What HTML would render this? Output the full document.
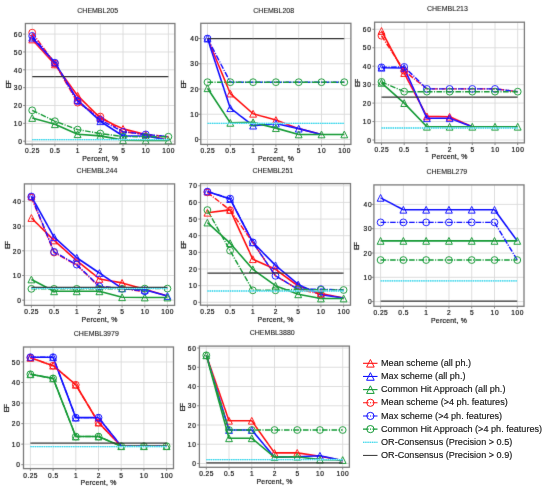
<!DOCTYPE html>
<html><head><meta charset="utf-8"><title>EF charts</title><style>html,body{margin:0;padding:0;background:#fff;}body{width:550px;height:492px;overflow:hidden;font-family:"Liberation Sans",sans-serif;}svg{display:block;will-change:transform;}text{font-family:"Liberation Sans",sans-serif;}</style></head><body>
<svg width="550" height="492" viewBox="0 0 550 492"><defs><filter id="bl" x="0" y="0" width="550" height="492" filterUnits="userSpaceOnUse"><feConvolveMatrix order="3" kernelMatrix="0.0072 0.0847 0.0072 0.0847 1.0000 0.0847 0.0072 0.0847 0.0072" edgeMode="duplicate"/></filter><filter id="tb" x="0" y="0" width="550" height="492" filterUnits="userSpaceOnUse"><feConvolveMatrix order="3" kernelMatrix="0.0072 0.0847 0.0072 0.0847 1.0000 0.0847 0.0072 0.0847 0.0072" edgeMode="duplicate"/></filter></defs><rect width="550" height="492" fill="#fff"/><g filter="url(#bl)">
<path d="M32.2 23.5V144.2M54.9 23.5V144.2M77.6 23.5V144.2M100.3 23.5V144.2M123 23.5V144.2M145.7 23.5V144.2M168.4 23.5V144.2M25.4 141.2H174.9M25.4 123.35H174.9M25.4 105.5H174.9M25.4 87.65H174.9M25.4 69.8H174.9M25.4 51.95H174.9M25.4 34.1H174.9" stroke="#dadada" stroke-width="0.9" fill="none"/>
<path d="M32.2 39.45L54.9 64.44L77.6 95.68L100.3 117.99L123 128.88L145.7 134.6L168.4 140.31" fill="none" stroke="#ff1010" stroke-width="1.6" stroke-linejoin="round"/>
<path d="M32.2 36.05L28.8 42.85L35.6 42.85Z" fill="none" stroke="#ff1010" stroke-width="1.0" stroke-linejoin="miter"/>
<path d="M54.9 61.04L51.5 67.84L58.3 67.84Z" fill="none" stroke="#ff1010" stroke-width="1.0" stroke-linejoin="miter"/>
<path d="M77.6 92.28L74.2 99.08L81 99.08Z" fill="none" stroke="#ff1010" stroke-width="1.0" stroke-linejoin="miter"/>
<path d="M100.3 114.59L96.9 121.39L103.7 121.39Z" fill="none" stroke="#ff1010" stroke-width="1.0" stroke-linejoin="miter"/>
<path d="M123 125.48L119.6 132.28L126.4 132.28Z" fill="none" stroke="#ff1010" stroke-width="1.0" stroke-linejoin="miter"/>
<path d="M145.7 131.2L142.3 138L149.1 138Z" fill="none" stroke="#ff1010" stroke-width="1.0" stroke-linejoin="miter"/>
<path d="M32.2 37.67L54.9 62.66L77.6 100.14L100.3 121.21L123 136.02L145.7 136.02L168.4 140.31" fill="none" stroke="#1010ff" stroke-width="1.6" stroke-linejoin="round"/>
<path d="M32.2 34.27L28.8 41.07L35.6 41.07Z" fill="none" stroke="#1010ff" stroke-width="1.0" stroke-linejoin="miter"/>
<path d="M54.9 59.26L51.5 66.06L58.3 66.06Z" fill="none" stroke="#1010ff" stroke-width="1.0" stroke-linejoin="miter"/>
<path d="M77.6 96.74L74.2 103.54L81 103.54Z" fill="none" stroke="#1010ff" stroke-width="1.0" stroke-linejoin="miter"/>
<path d="M100.3 117.81L96.9 124.61L103.7 124.61Z" fill="none" stroke="#1010ff" stroke-width="1.0" stroke-linejoin="miter"/>
<path d="M123 132.62L119.6 139.42L126.4 139.42Z" fill="none" stroke="#1010ff" stroke-width="1.0" stroke-linejoin="miter"/>
<path d="M145.7 132.62L142.3 139.42L149.1 139.42Z" fill="none" stroke="#1010ff" stroke-width="1.0" stroke-linejoin="miter"/>
<path d="M32.2 117.99L54.9 124.24L77.6 134.24L100.3 135.84L123 140.13L145.7 140.49L168.4 140.49" fill="none" stroke="#139a35" stroke-width="1.6" stroke-linejoin="round"/>
<path d="M32.2 114.59L28.8 121.39L35.6 121.39Z" fill="none" stroke="#139a35" stroke-width="1.0" stroke-linejoin="miter"/>
<path d="M54.9 120.84L51.5 127.64L58.3 127.64Z" fill="none" stroke="#139a35" stroke-width="1.0" stroke-linejoin="miter"/>
<path d="M77.6 130.84L74.2 137.64L81 137.64Z" fill="none" stroke="#139a35" stroke-width="1.0" stroke-linejoin="miter"/>
<path d="M100.3 132.44L96.9 139.25L103.7 139.25Z" fill="none" stroke="#139a35" stroke-width="1.0" stroke-linejoin="miter"/>
<path d="M123 136.73L119.6 143.53L126.4 143.53Z" fill="none" stroke="#139a35" stroke-width="1.0" stroke-linejoin="miter"/>
<path d="M145.7 137.09L142.3 143.89L149.1 143.89Z" fill="none" stroke="#139a35" stroke-width="1.0" stroke-linejoin="miter"/>
<path d="M168.4 137.09L165 143.89L171.8 143.89Z" fill="none" stroke="#139a35" stroke-width="1.0" stroke-linejoin="miter"/>
<path d="M32.2 32.67L54.9 63.55L77.6 102.64L100.3 116.57L123 131.74L145.7 134.42L168.4 136.74" fill="none" stroke="#ff1010" stroke-width="1.45" stroke-linejoin="round" stroke-dasharray="5.6 1.4 1.1 1.4"/>
<circle cx="32.2" cy="32.67" r="3.4" fill="none" stroke="#ff1010" stroke-width="1.0"/>
<circle cx="54.9" cy="63.55" r="3.4" fill="none" stroke="#ff1010" stroke-width="1.0"/>
<circle cx="77.6" cy="102.64" r="3.4" fill="none" stroke="#ff1010" stroke-width="1.0"/>
<circle cx="100.3" cy="116.57" r="3.4" fill="none" stroke="#ff1010" stroke-width="1.0"/>
<path d="M32.2 35.88L54.9 62.66L77.6 101.22L100.3 119.78L123 131.74L145.7 134.42L168.4 136.74" fill="none" stroke="#1010ff" stroke-width="1.45" stroke-linejoin="round" stroke-dasharray="5.6 1.4 1.1 1.4"/>
<circle cx="32.2" cy="35.88" r="3.4" fill="none" stroke="#1010ff" stroke-width="1.0"/>
<circle cx="54.9" cy="62.66" r="3.4" fill="none" stroke="#1010ff" stroke-width="1.0"/>
<circle cx="77.6" cy="101.22" r="3.4" fill="none" stroke="#1010ff" stroke-width="1.0"/>
<circle cx="100.3" cy="119.78" r="3.4" fill="none" stroke="#1010ff" stroke-width="1.0"/>
<circle cx="123" cy="131.74" r="3.4" fill="none" stroke="#1010ff" stroke-width="1.0"/>
<circle cx="145.7" cy="134.42" r="3.4" fill="none" stroke="#1010ff" stroke-width="1.0"/>
<path d="M32.2 110.32L54.9 121.21L77.6 129.6L100.3 133.52L123 136.56L145.7 136.74L168.4 136.74" fill="none" stroke="#139a35" stroke-width="1.45" stroke-linejoin="round" stroke-dasharray="5.6 1.4 1.1 1.4"/>
<circle cx="32.2" cy="110.32" r="3.4" fill="none" stroke="#139a35" stroke-width="1.0"/>
<circle cx="54.9" cy="121.21" r="3.4" fill="none" stroke="#139a35" stroke-width="1.0"/>
<circle cx="77.6" cy="129.6" r="3.4" fill="none" stroke="#139a35" stroke-width="1.0"/>
<circle cx="100.3" cy="133.52" r="3.4" fill="none" stroke="#139a35" stroke-width="1.0"/>
<circle cx="123" cy="136.56" r="3.4" fill="none" stroke="#139a35" stroke-width="1.0"/>
<circle cx="145.7" cy="136.74" r="3.4" fill="none" stroke="#139a35" stroke-width="1.0"/>
<circle cx="168.4" cy="136.74" r="3.4" fill="none" stroke="#139a35" stroke-width="1.0"/>
<path d="M32.2 139.59H168.4" stroke="#a8eef6" stroke-width="1.2"/>
<path d="M32.2 139.59H168.4" stroke="#22d2ea" stroke-width="1.3" stroke-dasharray="1.2 1.05"/>
<path d="M32.2 76.58H168.4" stroke="#333333" stroke-width="1.25"/>
<rect x="25.4" y="23.5" width="149.5" height="120.7" fill="none" stroke="#7a7a7a" stroke-width="1.3"/>
<path d="M32.2 144.2v2.2M54.9 144.2v2.2M77.6 144.2v2.2M100.3 144.2v2.2M123 144.2v2.2M145.7 144.2v2.2M168.4 144.2v2.2M25.4 141.2h-2.2M25.4 123.35h-2.2M25.4 105.5h-2.2M25.4 87.65h-2.2M25.4 69.8h-2.2M25.4 51.95h-2.2M25.4 34.1h-2.2" stroke="#7a7a7a" stroke-width="0.9" fill="none"/>
<path d="M207.5 23.3V144.4M230.3 23.3V144.4M253.1 23.3V144.4M275.9 23.3V144.4M298.7 23.3V144.4M321.5 23.3V144.4M344.3 23.3V144.4M200.8 139.5H350.9M200.8 114.25H350.9M200.8 89H350.9M200.8 63.75H350.9M200.8 38.5H350.9" stroke="#dadada" stroke-width="0.9" fill="none"/>
<path d="M207.5 38.5L230.3 93.55L253.1 113.75L275.9 120.06L298.7 128.64L321.5 134.45" fill="none" stroke="#ff1010" stroke-width="1.6" stroke-linejoin="round"/>
<path d="M230.3 90.14L226.9 96.95L233.7 96.95Z" fill="none" stroke="#ff1010" stroke-width="1.0" stroke-linejoin="miter"/>
<path d="M253.1 110.34L249.7 117.15L256.5 117.15Z" fill="none" stroke="#ff1010" stroke-width="1.0" stroke-linejoin="miter"/>
<path d="M275.9 116.66L272.5 123.46L279.3 123.46Z" fill="none" stroke="#ff1010" stroke-width="1.0" stroke-linejoin="miter"/>
<path d="M207.5 38.5L230.3 108.19L253.1 125.61L275.9 123.59L298.7 128.64L321.5 134.45" fill="none" stroke="#1010ff" stroke-width="1.6" stroke-linejoin="round"/>
<path d="M207.5 35.1L204.1 41.9L210.9 41.9Z" fill="none" stroke="#1010ff" stroke-width="1.0" stroke-linejoin="miter"/>
<path d="M230.3 104.79L226.9 111.59L233.7 111.59Z" fill="none" stroke="#1010ff" stroke-width="1.0" stroke-linejoin="miter"/>
<path d="M253.1 122.21L249.7 129.01L256.5 129.01Z" fill="none" stroke="#1010ff" stroke-width="1.0" stroke-linejoin="miter"/>
<path d="M275.9 120.19L272.5 126.99L279.3 126.99Z" fill="none" stroke="#1010ff" stroke-width="1.0" stroke-linejoin="miter"/>
<path d="M298.7 125.24L295.3 132.04L302.1 132.04Z" fill="none" stroke="#1010ff" stroke-width="1.0" stroke-linejoin="miter"/>
<path d="M207.5 88.24L230.3 122.84L253.1 122.33L275.9 128.14L298.7 134.45L321.5 134.45L344.3 134.45" fill="none" stroke="#139a35" stroke-width="1.6" stroke-linejoin="round"/>
<path d="M207.5 84.84L204.1 91.64L210.9 91.64Z" fill="none" stroke="#139a35" stroke-width="1.0" stroke-linejoin="miter"/>
<path d="M230.3 119.44L226.9 126.24L233.7 126.24Z" fill="none" stroke="#139a35" stroke-width="1.0" stroke-linejoin="miter"/>
<path d="M253.1 118.93L249.7 125.73L256.5 125.73Z" fill="none" stroke="#139a35" stroke-width="1.0" stroke-linejoin="miter"/>
<path d="M275.9 124.74L272.5 131.54L279.3 131.54Z" fill="none" stroke="#139a35" stroke-width="1.0" stroke-linejoin="miter"/>
<path d="M298.7 131.05L295.3 137.85L302.1 137.85Z" fill="none" stroke="#139a35" stroke-width="1.0" stroke-linejoin="miter"/>
<path d="M321.5 131.05L318.1 137.85L324.9 137.85Z" fill="none" stroke="#139a35" stroke-width="1.0" stroke-linejoin="miter"/>
<path d="M344.3 131.05L340.9 137.85L347.7 137.85Z" fill="none" stroke="#139a35" stroke-width="1.0" stroke-linejoin="miter"/>
<path d="M207.5 38.5L230.3 82.18L253.1 82.18L275.9 82.18L298.7 82.18L321.5 82.18L344.3 82.18" fill="none" stroke="#1010ff" stroke-width="1.45" stroke-linejoin="round" stroke-dasharray="5.6 1.4 1.1 1.4"/>
<circle cx="207.5" cy="38.5" r="3.4" fill="none" stroke="#1010ff" stroke-width="1.0"/>
<path d="M207.5 82.18L230.3 82.18L253.1 82.18L275.9 82.18L298.7 82.18L321.5 82.18L344.3 82.18" fill="none" stroke="#139a35" stroke-width="1.45" stroke-linejoin="round" stroke-dasharray="5.6 1.4 1.1 1.4"/>
<circle cx="207.5" cy="82.18" r="3.4" fill="none" stroke="#139a35" stroke-width="1.0"/>
<circle cx="230.3" cy="82.18" r="3.4" fill="none" stroke="#139a35" stroke-width="1.0"/>
<circle cx="253.1" cy="82.18" r="3.4" fill="none" stroke="#139a35" stroke-width="1.0"/>
<circle cx="275.9" cy="82.18" r="3.4" fill="none" stroke="#139a35" stroke-width="1.0"/>
<circle cx="298.7" cy="82.18" r="3.4" fill="none" stroke="#139a35" stroke-width="1.0"/>
<circle cx="321.5" cy="82.18" r="3.4" fill="none" stroke="#139a35" stroke-width="1.0"/>
<circle cx="344.3" cy="82.18" r="3.4" fill="none" stroke="#139a35" stroke-width="1.0"/>
<path d="M207.5 123.34H344.3" stroke="#a8eef6" stroke-width="1.2"/>
<path d="M207.5 123.34H344.3" stroke="#22d2ea" stroke-width="1.3" stroke-dasharray="1.2 1.05"/>
<path d="M207.5 38.5H344.3" stroke="#333333" stroke-width="1.25"/>
<rect x="200.8" y="23.3" width="150.1" height="121.1" fill="none" stroke="#7a7a7a" stroke-width="1.3"/>
<path d="M207.5 144.4v2.2M230.3 144.4v2.2M253.1 144.4v2.2M275.9 144.4v2.2M298.7 144.4v2.2M321.5 144.4v2.2M344.3 144.4v2.2M200.8 139.5h-2.2M200.8 114.25h-2.2M200.8 89h-2.2M200.8 63.75h-2.2M200.8 38.5h-2.2" stroke="#7a7a7a" stroke-width="0.9" fill="none"/>
<path d="M381.5 22.2V142.9M404.2 22.2V142.9M426.9 22.2V142.9M449.6 22.2V142.9M472.3 22.2V142.9M495 22.2V142.9M517.7 22.2V142.9M374.6 140H524.4M374.6 121.55H524.4M374.6 103.1H524.4M374.6 84.65H524.4M374.6 66.2H524.4M374.6 47.75H524.4M374.6 29.3H524.4" stroke="#dadada" stroke-width="0.9" fill="none"/>
<path d="M381.5 30.96L404.2 73.03L426.9 116.38L449.6 116.75L472.3 126.72" fill="none" stroke="#ff1010" stroke-width="1.6" stroke-linejoin="round"/>
<path d="M381.5 27.56L378.1 34.36L384.9 34.36Z" fill="none" stroke="#ff1010" stroke-width="1.0" stroke-linejoin="miter"/>
<path d="M404.2 69.63L400.8 76.43L407.6 76.43Z" fill="none" stroke="#ff1010" stroke-width="1.0" stroke-linejoin="miter"/>
<path d="M426.9 112.98L423.5 119.78L430.3 119.78Z" fill="none" stroke="#ff1010" stroke-width="1.0" stroke-linejoin="miter"/>
<path d="M449.6 113.35L446.2 120.15L453 120.15Z" fill="none" stroke="#ff1010" stroke-width="1.0" stroke-linejoin="miter"/>
<path d="M381.5 67.68L404.2 68.05L426.9 118.23L449.6 118.23L472.3 126.72" fill="none" stroke="#1010ff" stroke-width="1.6" stroke-linejoin="round"/>
<path d="M381.5 64.28L378.1 71.08L384.9 71.08Z" fill="none" stroke="#1010ff" stroke-width="1.0" stroke-linejoin="miter"/>
<path d="M404.2 64.64L400.8 71.45L407.6 71.45Z" fill="none" stroke="#1010ff" stroke-width="1.0" stroke-linejoin="miter"/>
<path d="M426.9 114.83L423.5 121.63L430.3 121.63Z" fill="none" stroke="#1010ff" stroke-width="1.0" stroke-linejoin="miter"/>
<path d="M449.6 114.83L446.2 121.63L453 121.63Z" fill="none" stroke="#1010ff" stroke-width="1.0" stroke-linejoin="miter"/>
<path d="M381.5 82.81L404.2 103.1L426.9 126.72L449.6 126.72L472.3 126.72L495 126.72L517.7 126.72" fill="none" stroke="#139a35" stroke-width="1.6" stroke-linejoin="round"/>
<path d="M381.5 79.41L378.1 86.21L384.9 86.21Z" fill="none" stroke="#139a35" stroke-width="1.0" stroke-linejoin="miter"/>
<path d="M404.2 99.7L400.8 106.5L407.6 106.5Z" fill="none" stroke="#139a35" stroke-width="1.0" stroke-linejoin="miter"/>
<path d="M426.9 123.32L423.5 130.12L430.3 130.12Z" fill="none" stroke="#139a35" stroke-width="1.0" stroke-linejoin="miter"/>
<path d="M449.6 123.32L446.2 130.12L453 130.12Z" fill="none" stroke="#139a35" stroke-width="1.0" stroke-linejoin="miter"/>
<path d="M472.3 123.32L468.9 130.12L475.7 130.12Z" fill="none" stroke="#139a35" stroke-width="1.0" stroke-linejoin="miter"/>
<path d="M495 123.32L491.6 130.12L498.4 130.12Z" fill="none" stroke="#139a35" stroke-width="1.0" stroke-linejoin="miter"/>
<path d="M517.7 123.32L514.3 130.12L521.1 130.12Z" fill="none" stroke="#139a35" stroke-width="1.0" stroke-linejoin="miter"/>
<path d="M381.5 35.76L404.2 70.81L426.9 88.89L449.6 88.89L472.3 88.89L495 88.89L517.7 91.66" fill="none" stroke="#ff1010" stroke-width="1.45" stroke-linejoin="round" stroke-dasharray="5.6 1.4 1.1 1.4"/>
<circle cx="381.5" cy="35.76" r="3.4" fill="none" stroke="#ff1010" stroke-width="1.0"/>
<circle cx="404.2" cy="70.81" r="3.4" fill="none" stroke="#ff1010" stroke-width="1.0"/>
<path d="M381.5 67.31L404.2 66.94L426.9 88.89L449.6 88.89L472.3 88.89L495 88.89L517.7 91.66" fill="none" stroke="#1010ff" stroke-width="1.45" stroke-linejoin="round" stroke-dasharray="5.6 1.4 1.1 1.4"/>
<circle cx="381.5" cy="67.31" r="3.4" fill="none" stroke="#1010ff" stroke-width="1.0"/>
<circle cx="404.2" cy="66.94" r="3.4" fill="none" stroke="#1010ff" stroke-width="1.0"/>
<circle cx="426.9" cy="88.89" r="3.4" fill="none" stroke="#1010ff" stroke-width="1.0"/>
<circle cx="449.6" cy="88.89" r="3.4" fill="none" stroke="#1010ff" stroke-width="1.0"/>
<circle cx="472.3" cy="88.89" r="3.4" fill="none" stroke="#1010ff" stroke-width="1.0"/>
<circle cx="495" cy="88.89" r="3.4" fill="none" stroke="#1010ff" stroke-width="1.0"/>
<path d="M381.5 81.88L404.2 91.66L426.9 91.66L449.6 91.66L472.3 91.66L495 91.66L517.7 91.66" fill="none" stroke="#139a35" stroke-width="1.45" stroke-linejoin="round" stroke-dasharray="5.6 1.4 1.1 1.4"/>
<circle cx="381.5" cy="81.88" r="3.4" fill="none" stroke="#139a35" stroke-width="1.0"/>
<circle cx="404.2" cy="91.66" r="3.4" fill="none" stroke="#139a35" stroke-width="1.0"/>
<circle cx="426.9" cy="91.66" r="3.4" fill="none" stroke="#139a35" stroke-width="1.0"/>
<circle cx="449.6" cy="91.66" r="3.4" fill="none" stroke="#139a35" stroke-width="1.0"/>
<circle cx="472.3" cy="91.66" r="3.4" fill="none" stroke="#139a35" stroke-width="1.0"/>
<circle cx="495" cy="91.66" r="3.4" fill="none" stroke="#139a35" stroke-width="1.0"/>
<circle cx="517.7" cy="91.66" r="3.4" fill="none" stroke="#139a35" stroke-width="1.0"/>
<path d="M381.5 128.01H517.7" stroke="#a8eef6" stroke-width="1.2"/>
<path d="M381.5 128.01H517.7" stroke="#22d2ea" stroke-width="1.3" stroke-dasharray="1.2 1.05"/>
<path d="M381.5 97.2H517.7" stroke="#333333" stroke-width="1.25"/>
<rect x="374.6" y="22.2" width="149.8" height="120.7" fill="none" stroke="#7a7a7a" stroke-width="1.3"/>
<path d="M381.5 142.9v2.2M404.2 142.9v2.2M426.9 142.9v2.2M449.6 142.9v2.2M472.3 142.9v2.2M495 142.9v2.2M517.7 142.9v2.2M374.6 140h-2.2M374.6 121.55h-2.2M374.6 103.1h-2.2M374.6 84.65h-2.2M374.6 66.2h-2.2M374.6 47.75h-2.2M374.6 29.3h-2.2" stroke="#7a7a7a" stroke-width="0.9" fill="none"/>
<path d="M31.4 183.9V305.4M54.07 183.9V305.4M76.74 183.9V305.4M99.41 183.9V305.4M122.08 183.9V305.4M144.75 183.9V305.4M167.42 183.9V305.4M24.4 300.2H174.6M24.4 275.5H174.6M24.4 250.8H174.6M24.4 226.1H174.6M24.4 201.4H174.6" stroke="#dadada" stroke-width="0.9" fill="none"/>
<path d="M31.4 217.95L54.07 240.43L76.74 260.68L99.41 278.96L122.08 282.91L144.75 289.33L167.42 296" fill="none" stroke="#ff1010" stroke-width="1.6" stroke-linejoin="round"/>
<path d="M31.4 214.55L28 221.35L34.8 221.35Z" fill="none" stroke="#ff1010" stroke-width="1.0" stroke-linejoin="miter"/>
<path d="M54.07 237.03L50.67 243.83L57.47 243.83Z" fill="none" stroke="#ff1010" stroke-width="1.0" stroke-linejoin="miter"/>
<path d="M76.74 257.28L73.34 264.08L80.14 264.08Z" fill="none" stroke="#ff1010" stroke-width="1.0" stroke-linejoin="miter"/>
<path d="M99.41 275.56L96.01 282.36L102.81 282.36Z" fill="none" stroke="#ff1010" stroke-width="1.0" stroke-linejoin="miter"/>
<path d="M122.08 279.51L118.68 286.31L125.48 286.31Z" fill="none" stroke="#ff1010" stroke-width="1.0" stroke-linejoin="miter"/>
<path d="M31.4 196.46L54.07 237.21L76.74 257.72L99.41 273.03L122.08 288.34L144.75 289.83L167.42 296" fill="none" stroke="#1010ff" stroke-width="1.6" stroke-linejoin="round"/>
<path d="M31.4 193.06L28 199.86L34.8 199.86Z" fill="none" stroke="#1010ff" stroke-width="1.0" stroke-linejoin="miter"/>
<path d="M54.07 233.81L50.67 240.61L57.47 240.61Z" fill="none" stroke="#1010ff" stroke-width="1.0" stroke-linejoin="miter"/>
<path d="M76.74 254.32L73.34 261.12L80.14 261.12Z" fill="none" stroke="#1010ff" stroke-width="1.0" stroke-linejoin="miter"/>
<path d="M99.41 269.63L96.01 276.43L102.81 276.43Z" fill="none" stroke="#1010ff" stroke-width="1.0" stroke-linejoin="miter"/>
<path d="M122.08 284.94L118.68 291.74L125.48 291.74Z" fill="none" stroke="#1010ff" stroke-width="1.0" stroke-linejoin="miter"/>
<path d="M144.75 286.43L141.35 293.23L148.15 293.23Z" fill="none" stroke="#1010ff" stroke-width="1.0" stroke-linejoin="miter"/>
<path d="M167.42 292.6L164.02 299.4L170.82 299.4Z" fill="none" stroke="#1010ff" stroke-width="1.0" stroke-linejoin="miter"/>
<path d="M31.4 279.45L54.07 291.31L76.74 291.31L99.41 291.31L122.08 297.24L144.75 297.48L167.42 297.48" fill="none" stroke="#139a35" stroke-width="1.6" stroke-linejoin="round"/>
<path d="M31.4 276.05L28 282.85L34.8 282.85Z" fill="none" stroke="#139a35" stroke-width="1.0" stroke-linejoin="miter"/>
<path d="M54.07 287.91L50.67 294.71L57.47 294.71Z" fill="none" stroke="#139a35" stroke-width="1.0" stroke-linejoin="miter"/>
<path d="M76.74 287.91L73.34 294.71L80.14 294.71Z" fill="none" stroke="#139a35" stroke-width="1.0" stroke-linejoin="miter"/>
<path d="M99.41 287.91L96.01 294.71L102.81 294.71Z" fill="none" stroke="#139a35" stroke-width="1.0" stroke-linejoin="miter"/>
<path d="M122.08 293.84L118.68 300.64L125.48 300.64Z" fill="none" stroke="#139a35" stroke-width="1.0" stroke-linejoin="miter"/>
<path d="M144.75 294.08L141.35 300.88L148.15 300.88Z" fill="none" stroke="#139a35" stroke-width="1.0" stroke-linejoin="miter"/>
<path d="M167.42 294.08L164.02 300.88L170.82 300.88Z" fill="none" stroke="#139a35" stroke-width="1.0" stroke-linejoin="miter"/>
<path d="M31.4 197.45L54.07 252.53L76.74 265.13L99.41 286.86L122.08 288.34L144.75 291.8" fill="none" stroke="#ff1010" stroke-width="1.45" stroke-linejoin="round" stroke-dasharray="5.6 1.4 1.1 1.4"/>
<circle cx="31.4" cy="197.45" r="3.4" fill="none" stroke="#ff1010" stroke-width="1.0"/>
<circle cx="54.07" cy="252.53" r="3.4" fill="none" stroke="#ff1010" stroke-width="1.0"/>
<path d="M31.4 196.46L54.07 251.79L76.74 264.63L99.41 286.37L122.08 288.34L144.75 291.31" fill="none" stroke="#1010ff" stroke-width="1.45" stroke-linejoin="round" stroke-dasharray="5.6 1.4 1.1 1.4"/>
<circle cx="31.4" cy="196.46" r="3.4" fill="none" stroke="#1010ff" stroke-width="1.0"/>
<circle cx="54.07" cy="251.79" r="3.4" fill="none" stroke="#1010ff" stroke-width="1.0"/>
<circle cx="76.74" cy="264.63" r="3.4" fill="none" stroke="#1010ff" stroke-width="1.0"/>
<circle cx="99.41" cy="286.37" r="3.4" fill="none" stroke="#1010ff" stroke-width="1.0"/>
<circle cx="144.75" cy="291.31" r="3.4" fill="none" stroke="#1010ff" stroke-width="1.0"/>
<path d="M31.4 288.84L54.07 288.84L76.74 288.84L99.41 288.84L122.08 288.84L144.75 288.59L167.42 288.59" fill="none" stroke="#139a35" stroke-width="1.45" stroke-linejoin="round" stroke-dasharray="5.6 1.4 1.1 1.4"/>
<circle cx="31.4" cy="288.84" r="3.4" fill="none" stroke="#139a35" stroke-width="1.0"/>
<circle cx="54.07" cy="288.84" r="3.4" fill="none" stroke="#139a35" stroke-width="1.0"/>
<circle cx="76.74" cy="288.84" r="3.4" fill="none" stroke="#139a35" stroke-width="1.0"/>
<circle cx="99.41" cy="288.84" r="3.4" fill="none" stroke="#139a35" stroke-width="1.0"/>
<circle cx="122.08" cy="288.84" r="3.4" fill="none" stroke="#139a35" stroke-width="1.0"/>
<circle cx="144.75" cy="288.59" r="3.4" fill="none" stroke="#139a35" stroke-width="1.0"/>
<circle cx="167.42" cy="288.59" r="3.4" fill="none" stroke="#139a35" stroke-width="1.0"/>
<path d="M31.4 288.34H167.42" stroke="#a8eef6" stroke-width="1.2"/>
<path d="M31.4 288.34H167.42" stroke="#22d2ea" stroke-width="1.3" stroke-dasharray="1.2 1.05"/>
<path d="M31.4 287.36H167.42" stroke="#333333" stroke-width="1.25"/>
<rect x="24.4" y="183.9" width="150.2" height="121.5" fill="none" stroke="#7a7a7a" stroke-width="1.3"/>
<path d="M31.4 305.4v2.2M54.07 305.4v2.2M76.74 305.4v2.2M99.41 305.4v2.2M122.08 305.4v2.2M144.75 305.4v2.2M167.42 305.4v2.2M24.4 300.2h-2.2M24.4 275.5h-2.2M24.4 250.8h-2.2M24.4 226.1h-2.2M24.4 201.4h-2.2" stroke="#7a7a7a" stroke-width="0.9" fill="none"/>
<path d="M207.4 183.6V305.2M230.1 183.6V305.2M252.8 183.6V305.2M275.5 183.6V305.2M298.2 183.6V305.2M320.9 183.6V305.2M343.6 183.6V305.2M200.5 302.3H350.5M200.5 285.65H350.5M200.5 269H350.5M200.5 252.35H350.5M200.5 235.7H350.5M200.5 219.05H350.5M200.5 202.4H350.5M200.5 185.75H350.5" stroke="#dadada" stroke-width="0.9" fill="none"/>
<path d="M207.4 212.72L230.1 209.89L252.8 259.18L275.5 269.33L298.2 285.98L320.9 293.48L343.6 297.97" fill="none" stroke="#ff1010" stroke-width="1.6" stroke-linejoin="round"/>
<path d="M207.4 209.32L204 216.12L210.8 216.12Z" fill="none" stroke="#ff1010" stroke-width="1.0" stroke-linejoin="miter"/>
<path d="M230.1 206.49L226.7 213.29L233.5 213.29Z" fill="none" stroke="#ff1010" stroke-width="1.0" stroke-linejoin="miter"/>
<path d="M252.8 255.78L249.4 262.58L256.2 262.58Z" fill="none" stroke="#ff1010" stroke-width="1.0" stroke-linejoin="miter"/>
<path d="M275.5 265.93L272.1 272.73L278.9 272.73Z" fill="none" stroke="#ff1010" stroke-width="1.0" stroke-linejoin="miter"/>
<path d="M298.2 282.58L294.8 289.38L301.6 289.38Z" fill="none" stroke="#ff1010" stroke-width="1.0" stroke-linejoin="miter"/>
<path d="M320.9 290.08L317.5 296.88L324.3 296.88Z" fill="none" stroke="#ff1010" stroke-width="1.0" stroke-linejoin="miter"/>
<path d="M207.4 191.58L230.1 199.07L252.8 242.36L275.5 265.34L298.2 284.48L320.9 294.81L343.6 297.97" fill="none" stroke="#1010ff" stroke-width="1.6" stroke-linejoin="round"/>
<path d="M207.4 188.18L204 194.98L210.8 194.98Z" fill="none" stroke="#1010ff" stroke-width="1.0" stroke-linejoin="miter"/>
<path d="M230.1 195.67L226.7 202.47L233.5 202.47Z" fill="none" stroke="#1010ff" stroke-width="1.0" stroke-linejoin="miter"/>
<path d="M252.8 238.96L249.4 245.76L256.2 245.76Z" fill="none" stroke="#1010ff" stroke-width="1.0" stroke-linejoin="miter"/>
<path d="M275.5 261.94L272.1 268.74L278.9 268.74Z" fill="none" stroke="#1010ff" stroke-width="1.0" stroke-linejoin="miter"/>
<path d="M298.2 281.08L294.8 287.88L301.6 287.88Z" fill="none" stroke="#1010ff" stroke-width="1.0" stroke-linejoin="miter"/>
<path d="M320.9 291.41L317.5 298.21L324.3 298.21Z" fill="none" stroke="#1010ff" stroke-width="1.0" stroke-linejoin="miter"/>
<path d="M207.4 222.55L230.1 243.19L252.8 269.33L275.5 285.65L298.2 294.31L320.9 298.47L343.6 298.47" fill="none" stroke="#139a35" stroke-width="1.6" stroke-linejoin="round"/>
<path d="M207.4 219.15L204 225.95L210.8 225.95Z" fill="none" stroke="#139a35" stroke-width="1.0" stroke-linejoin="miter"/>
<path d="M230.1 239.79L226.7 246.59L233.5 246.59Z" fill="none" stroke="#139a35" stroke-width="1.0" stroke-linejoin="miter"/>
<path d="M252.8 265.93L249.4 272.73L256.2 272.73Z" fill="none" stroke="#139a35" stroke-width="1.0" stroke-linejoin="miter"/>
<path d="M275.5 282.25L272.1 289.05L278.9 289.05Z" fill="none" stroke="#139a35" stroke-width="1.0" stroke-linejoin="miter"/>
<path d="M298.2 290.91L294.8 297.71L301.6 297.71Z" fill="none" stroke="#139a35" stroke-width="1.0" stroke-linejoin="miter"/>
<path d="M320.9 295.07L317.5 301.87L324.3 301.87Z" fill="none" stroke="#139a35" stroke-width="1.0" stroke-linejoin="miter"/>
<path d="M343.6 295.07L340.2 301.87L347 301.87Z" fill="none" stroke="#139a35" stroke-width="1.0" stroke-linejoin="miter"/>
<path d="M207.4 192.41L230.1 210.23L252.8 242.36L275.5 275.83L298.2 289.31L320.9 293.98" fill="none" stroke="#ff1010" stroke-width="1.45" stroke-linejoin="round" stroke-dasharray="5.6 1.4 1.1 1.4"/>
<circle cx="207.4" cy="192.41" r="3.4" fill="none" stroke="#ff1010" stroke-width="1.0"/>
<circle cx="230.1" cy="210.23" r="3.4" fill="none" stroke="#ff1010" stroke-width="1.0"/>
<circle cx="320.9" cy="293.98" r="3.4" fill="none" stroke="#ff1010" stroke-width="1.0"/>
<path d="M207.4 191.58L230.1 198.57L252.8 242.36L275.5 275.83L298.2 289.31L320.9 289.15L343.6 289.98" fill="none" stroke="#1010ff" stroke-width="1.45" stroke-linejoin="round" stroke-dasharray="5.6 1.4 1.1 1.4"/>
<circle cx="207.4" cy="191.58" r="3.4" fill="none" stroke="#1010ff" stroke-width="1.0"/>
<circle cx="230.1" cy="198.57" r="3.4" fill="none" stroke="#1010ff" stroke-width="1.0"/>
<circle cx="252.8" cy="242.36" r="3.4" fill="none" stroke="#1010ff" stroke-width="1.0"/>
<circle cx="275.5" cy="275.83" r="3.4" fill="none" stroke="#1010ff" stroke-width="1.0"/>
<circle cx="320.9" cy="289.15" r="3.4" fill="none" stroke="#1010ff" stroke-width="1.0"/>
<path d="M207.4 210.06L230.1 250.69L252.8 290.31L275.5 290.31L298.2 289.31L320.9 289.81L343.6 289.98" fill="none" stroke="#139a35" stroke-width="1.45" stroke-linejoin="round" stroke-dasharray="5.6 1.4 1.1 1.4"/>
<circle cx="207.4" cy="210.06" r="3.4" fill="none" stroke="#139a35" stroke-width="1.0"/>
<circle cx="230.1" cy="250.69" r="3.4" fill="none" stroke="#139a35" stroke-width="1.0"/>
<circle cx="252.8" cy="290.31" r="3.4" fill="none" stroke="#139a35" stroke-width="1.0"/>
<circle cx="275.5" cy="290.31" r="3.4" fill="none" stroke="#139a35" stroke-width="1.0"/>
<circle cx="298.2" cy="289.31" r="3.4" fill="none" stroke="#139a35" stroke-width="1.0"/>
<circle cx="320.9" cy="289.81" r="3.4" fill="none" stroke="#139a35" stroke-width="1.0"/>
<circle cx="343.6" cy="289.98" r="3.4" fill="none" stroke="#139a35" stroke-width="1.0"/>
<path d="M207.4 290.98H343.6" stroke="#a8eef6" stroke-width="1.2"/>
<path d="M207.4 290.98H343.6" stroke="#22d2ea" stroke-width="1.3" stroke-dasharray="1.2 1.05"/>
<path d="M207.4 273.16H343.6" stroke="#333333" stroke-width="1.25"/>
<rect x="200.5" y="183.6" width="150" height="121.6" fill="none" stroke="#7a7a7a" stroke-width="1.3"/>
<path d="M207.4 305.2v2.2M230.1 305.2v2.2M252.8 305.2v2.2M275.5 305.2v2.2M298.2 305.2v2.2M320.9 305.2v2.2M343.6 305.2v2.2M200.5 302.3h-2.2M200.5 285.65h-2.2M200.5 269h-2.2M200.5 252.35h-2.2M200.5 235.7h-2.2M200.5 219.05h-2.2M200.5 202.4h-2.2M200.5 185.75h-2.2" stroke="#7a7a7a" stroke-width="0.9" fill="none"/>
<path d="M380.6 184.9V306.3M403.38 184.9V306.3M426.16 184.9V306.3M448.94 184.9V306.3M471.72 184.9V306.3M494.5 184.9V306.3M517.28 184.9V306.3M373.9 301.6H524M373.9 277.3H524M373.9 253H524M373.9 228.7H524M373.9 204.4H524" stroke="#dadada" stroke-width="0.9" fill="none"/>
<path d="M380.6 197.84L403.38 209.75L426.16 209.75L448.94 209.75L471.72 209.75L494.5 209.75L517.28 240.85" fill="none" stroke="#1010ff" stroke-width="1.6" stroke-linejoin="round"/>
<path d="M380.6 194.44L377.2 201.24L384 201.24Z" fill="none" stroke="#1010ff" stroke-width="1.0" stroke-linejoin="miter"/>
<path d="M403.38 206.35L399.98 213.15L406.78 213.15Z" fill="none" stroke="#1010ff" stroke-width="1.0" stroke-linejoin="miter"/>
<path d="M426.16 206.35L422.76 213.15L429.56 213.15Z" fill="none" stroke="#1010ff" stroke-width="1.0" stroke-linejoin="miter"/>
<path d="M448.94 206.35L445.54 213.15L452.34 213.15Z" fill="none" stroke="#1010ff" stroke-width="1.0" stroke-linejoin="miter"/>
<path d="M471.72 206.35L468.32 213.15L475.12 213.15Z" fill="none" stroke="#1010ff" stroke-width="1.0" stroke-linejoin="miter"/>
<path d="M494.5 206.35L491.1 213.15L497.9 213.15Z" fill="none" stroke="#1010ff" stroke-width="1.0" stroke-linejoin="miter"/>
<path d="M380.6 240.85L403.38 240.85L426.16 240.85L448.94 240.85L471.72 240.85L494.5 240.85L517.28 240.85" fill="none" stroke="#139a35" stroke-width="1.6" stroke-linejoin="round"/>
<path d="M380.6 237.45L377.2 244.25L384 244.25Z" fill="none" stroke="#139a35" stroke-width="1.0" stroke-linejoin="miter"/>
<path d="M403.38 237.45L399.98 244.25L406.78 244.25Z" fill="none" stroke="#139a35" stroke-width="1.0" stroke-linejoin="miter"/>
<path d="M426.16 237.45L422.76 244.25L429.56 244.25Z" fill="none" stroke="#139a35" stroke-width="1.0" stroke-linejoin="miter"/>
<path d="M448.94 237.45L445.54 244.25L452.34 244.25Z" fill="none" stroke="#139a35" stroke-width="1.0" stroke-linejoin="miter"/>
<path d="M471.72 237.45L468.32 244.25L475.12 244.25Z" fill="none" stroke="#139a35" stroke-width="1.0" stroke-linejoin="miter"/>
<path d="M494.5 237.45L491.1 244.25L497.9 244.25Z" fill="none" stroke="#139a35" stroke-width="1.0" stroke-linejoin="miter"/>
<path d="M517.28 237.45L513.88 244.25L520.68 244.25Z" fill="none" stroke="#139a35" stroke-width="1.0" stroke-linejoin="miter"/>
<path d="M380.6 222.38L403.38 222.38L426.16 222.38L448.94 222.38L471.72 222.38L494.5 222.38L517.28 260.05" fill="none" stroke="#1010ff" stroke-width="1.45" stroke-linejoin="round" stroke-dasharray="5.6 1.4 1.1 1.4"/>
<circle cx="380.6" cy="222.38" r="3.4" fill="none" stroke="#1010ff" stroke-width="1.0"/>
<circle cx="403.38" cy="222.38" r="3.4" fill="none" stroke="#1010ff" stroke-width="1.0"/>
<circle cx="426.16" cy="222.38" r="3.4" fill="none" stroke="#1010ff" stroke-width="1.0"/>
<circle cx="448.94" cy="222.38" r="3.4" fill="none" stroke="#1010ff" stroke-width="1.0"/>
<circle cx="471.72" cy="222.38" r="3.4" fill="none" stroke="#1010ff" stroke-width="1.0"/>
<circle cx="494.5" cy="222.38" r="3.4" fill="none" stroke="#1010ff" stroke-width="1.0"/>
<path d="M380.6 260.05L403.38 260.05L426.16 260.05L448.94 260.05L471.72 260.05L494.5 260.05L517.28 260.05" fill="none" stroke="#139a35" stroke-width="1.45" stroke-linejoin="round" stroke-dasharray="5.6 1.4 1.1 1.4"/>
<circle cx="380.6" cy="260.05" r="3.4" fill="none" stroke="#139a35" stroke-width="1.0"/>
<circle cx="403.38" cy="260.05" r="3.4" fill="none" stroke="#139a35" stroke-width="1.0"/>
<circle cx="426.16" cy="260.05" r="3.4" fill="none" stroke="#139a35" stroke-width="1.0"/>
<circle cx="448.94" cy="260.05" r="3.4" fill="none" stroke="#139a35" stroke-width="1.0"/>
<circle cx="471.72" cy="260.05" r="3.4" fill="none" stroke="#139a35" stroke-width="1.0"/>
<circle cx="494.5" cy="260.05" r="3.4" fill="none" stroke="#139a35" stroke-width="1.0"/>
<circle cx="517.28" cy="260.05" r="3.4" fill="none" stroke="#139a35" stroke-width="1.0"/>
<path d="M380.6 280.95H517.28" stroke="#a8eef6" stroke-width="1.2"/>
<path d="M380.6 280.95H517.28" stroke="#22d2ea" stroke-width="1.3" stroke-dasharray="1.2 1.05"/>
<path d="M380.6 301.24H517.28" stroke="#333333" stroke-width="1.25"/>
<rect x="373.9" y="184.9" width="150.1" height="121.4" fill="none" stroke="#7a7a7a" stroke-width="1.3"/>
<path d="M380.6 306.3v2.2M403.38 306.3v2.2M426.16 306.3v2.2M448.94 306.3v2.2M471.72 306.3v2.2M494.5 306.3v2.2M517.28 306.3v2.2M373.9 301.6h-2.2M373.9 277.3h-2.2M373.9 253h-2.2M373.9 228.7h-2.2M373.9 204.4h-2.2" stroke="#7a7a7a" stroke-width="0.9" fill="none"/>
<path d="M30.4 347V468.6M53.1 347V468.6M75.8 347V468.6M98.5 347V468.6M121.2 347V468.6M143.9 347V468.6M166.6 347V468.6M23.5 464.7H173.5M23.5 444.15H173.5M23.5 423.6H173.5M23.5 403.05H173.5M23.5 382.5H173.5M23.5 361.95H173.5" stroke="#dadada" stroke-width="0.9" fill="none"/>
<path d="M30.4 357.84L53.1 365.65L75.8 384.76L98.5 422.57L121.2 446.2L143.9 446.2L166.6 446.2" fill="none" stroke="#ff1010" stroke-width="1.6" stroke-linejoin="round"/>
<path d="M30.4 354.44L27 361.24L33.8 361.24Z" fill="none" stroke="#ff1010" stroke-width="1.0" stroke-linejoin="miter"/>
<path d="M53.1 362.25L49.7 369.05L56.5 369.05Z" fill="none" stroke="#ff1010" stroke-width="1.0" stroke-linejoin="miter"/>
<path d="M75.8 381.36L72.4 388.16L79.2 388.16Z" fill="none" stroke="#ff1010" stroke-width="1.0" stroke-linejoin="miter"/>
<path d="M98.5 419.17L95.1 425.97L101.9 425.97Z" fill="none" stroke="#ff1010" stroke-width="1.0" stroke-linejoin="miter"/>
<path d="M30.4 357.22L53.1 357.22L75.8 417.64L98.5 417.64L121.2 446.2L143.9 446.2L166.6 446.2" fill="none" stroke="#1010ff" stroke-width="1.6" stroke-linejoin="round"/>
<path d="M30.4 353.82L27 360.62L33.8 360.62Z" fill="none" stroke="#1010ff" stroke-width="1.0" stroke-linejoin="miter"/>
<path d="M53.1 353.82L49.7 360.62L56.5 360.62Z" fill="none" stroke="#1010ff" stroke-width="1.0" stroke-linejoin="miter"/>
<path d="M75.8 414.24L72.4 421.04L79.2 421.04Z" fill="none" stroke="#1010ff" stroke-width="1.0" stroke-linejoin="miter"/>
<path d="M98.5 414.24L95.1 421.04L101.9 421.04Z" fill="none" stroke="#1010ff" stroke-width="1.0" stroke-linejoin="miter"/>
<path d="M30.4 374.28L53.1 378.39L75.8 436.55L98.5 436.55L121.2 446.2L143.9 446.2L166.6 446.2" fill="none" stroke="#139a35" stroke-width="1.6" stroke-linejoin="round"/>
<path d="M30.4 370.88L27 377.68L33.8 377.68Z" fill="none" stroke="#139a35" stroke-width="1.0" stroke-linejoin="miter"/>
<path d="M53.1 374.99L49.7 381.79L56.5 381.79Z" fill="none" stroke="#139a35" stroke-width="1.0" stroke-linejoin="miter"/>
<path d="M75.8 433.15L72.4 439.95L79.2 439.95Z" fill="none" stroke="#139a35" stroke-width="1.0" stroke-linejoin="miter"/>
<path d="M98.5 433.15L95.1 439.95L101.9 439.95Z" fill="none" stroke="#139a35" stroke-width="1.0" stroke-linejoin="miter"/>
<path d="M121.2 442.81L117.8 449.6L124.6 449.6Z" fill="none" stroke="#139a35" stroke-width="1.0" stroke-linejoin="miter"/>
<path d="M143.9 442.81L140.5 449.6L147.3 449.6Z" fill="none" stroke="#139a35" stroke-width="1.0" stroke-linejoin="miter"/>
<path d="M166.6 442.81L163.2 449.6L170 449.6Z" fill="none" stroke="#139a35" stroke-width="1.0" stroke-linejoin="miter"/>
<path d="M30.4 357.84L53.1 365.65L75.8 384.76L98.5 422.57L121.2 446.2L143.9 446.2L166.6 446.2" fill="none" stroke="#ff1010" stroke-width="1.45" stroke-linejoin="round" stroke-dasharray="5.6 1.4 1.1 1.4"/>
<circle cx="30.4" cy="357.84" r="3.4" fill="none" stroke="#ff1010" stroke-width="1.0"/>
<circle cx="53.1" cy="365.65" r="3.4" fill="none" stroke="#ff1010" stroke-width="1.0"/>
<circle cx="75.8" cy="384.76" r="3.4" fill="none" stroke="#ff1010" stroke-width="1.0"/>
<circle cx="98.5" cy="422.57" r="3.4" fill="none" stroke="#ff1010" stroke-width="1.0"/>
<path d="M30.4 357.22L53.1 357.22L75.8 417.64L98.5 417.64L121.2 446.2L143.9 446.2L166.6 446.2" fill="none" stroke="#1010ff" stroke-width="1.45" stroke-linejoin="round" stroke-dasharray="5.6 1.4 1.1 1.4"/>
<circle cx="30.4" cy="357.22" r="3.4" fill="none" stroke="#1010ff" stroke-width="1.0"/>
<circle cx="53.1" cy="357.22" r="3.4" fill="none" stroke="#1010ff" stroke-width="1.0"/>
<circle cx="75.8" cy="417.64" r="3.4" fill="none" stroke="#1010ff" stroke-width="1.0"/>
<circle cx="98.5" cy="417.64" r="3.4" fill="none" stroke="#1010ff" stroke-width="1.0"/>
<path d="M30.4 374.28L53.1 378.39L75.8 436.55L98.5 436.55L121.2 446.2L143.9 446.2L166.6 446.2" fill="none" stroke="#139a35" stroke-width="1.45" stroke-linejoin="round" stroke-dasharray="5.6 1.4 1.1 1.4"/>
<circle cx="30.4" cy="374.28" r="3.4" fill="none" stroke="#139a35" stroke-width="1.0"/>
<circle cx="53.1" cy="378.39" r="3.4" fill="none" stroke="#139a35" stroke-width="1.0"/>
<circle cx="75.8" cy="436.55" r="3.4" fill="none" stroke="#139a35" stroke-width="1.0"/>
<circle cx="98.5" cy="436.55" r="3.4" fill="none" stroke="#139a35" stroke-width="1.0"/>
<circle cx="121.2" cy="446.2" r="3.4" fill="none" stroke="#139a35" stroke-width="1.0"/>
<circle cx="143.9" cy="446.2" r="3.4" fill="none" stroke="#139a35" stroke-width="1.0"/>
<circle cx="166.6" cy="446.2" r="3.4" fill="none" stroke="#139a35" stroke-width="1.0"/>
<path d="M30.4 446.62H166.6" stroke="#a8eef6" stroke-width="1.2"/>
<path d="M30.4 446.62H166.6" stroke="#22d2ea" stroke-width="1.3" stroke-dasharray="1.2 1.05"/>
<path d="M30.4 443.12H166.6" stroke="#333333" stroke-width="1.25"/>
<rect x="23.5" y="347" width="150" height="121.6" fill="none" stroke="#7a7a7a" stroke-width="1.3"/>
<path d="M30.4 468.6v2.2M53.1 468.6v2.2M75.8 468.6v2.2M98.5 468.6v2.2M121.2 468.6v2.2M143.9 468.6v2.2M166.6 468.6v2.2M23.5 464.7h-2.2M23.5 444.15h-2.2M23.5 423.6h-2.2M23.5 403.05h-2.2M23.5 382.5h-2.2M23.5 361.95h-2.2" stroke="#7a7a7a" stroke-width="0.9" fill="none"/>
<path d="M206.3 346.1V467.3M229.03 346.1V467.3M251.76 346.1V467.3M274.49 346.1V467.3M297.22 346.1V467.3M319.95 346.1V467.3M342.68 346.1V467.3M199.4 463.5H349.4M199.4 444.25H349.4M199.4 425H349.4M199.4 405.75H349.4M199.4 386.5H349.4M199.4 367.25H349.4M199.4 348H349.4" stroke="#dadada" stroke-width="0.9" fill="none"/>
<path d="M206.3 355.31L229.03 420.76L251.76 420.76L274.49 452.91L297.22 452.91L319.95 456.19L342.68 460.61" fill="none" stroke="#ff1010" stroke-width="1.6" stroke-linejoin="round"/>
<path d="M229.03 417.37L225.63 424.16L232.43 424.16Z" fill="none" stroke="#ff1010" stroke-width="1.0" stroke-linejoin="miter"/>
<path d="M251.76 417.37L248.36 424.16L255.16 424.16Z" fill="none" stroke="#ff1010" stroke-width="1.0" stroke-linejoin="miter"/>
<path d="M274.49 449.51L271.09 456.31L277.89 456.31Z" fill="none" stroke="#ff1010" stroke-width="1.0" stroke-linejoin="miter"/>
<path d="M297.22 449.51L293.82 456.31L300.62 456.31Z" fill="none" stroke="#ff1010" stroke-width="1.0" stroke-linejoin="miter"/>
<path d="M206.3 355.31L229.03 430L251.76 430L274.49 457.15L297.22 456.76L319.95 455.8L342.68 460.61" fill="none" stroke="#1010ff" stroke-width="1.6" stroke-linejoin="round"/>
<path d="M229.03 426.61L225.63 433.4L232.43 433.4Z" fill="none" stroke="#1010ff" stroke-width="1.0" stroke-linejoin="miter"/>
<path d="M251.76 426.61L248.36 433.4L255.16 433.4Z" fill="none" stroke="#1010ff" stroke-width="1.0" stroke-linejoin="miter"/>
<path d="M319.95 452.4L316.55 459.2L323.35 459.2Z" fill="none" stroke="#1010ff" stroke-width="1.0" stroke-linejoin="miter"/>
<path d="M206.3 355.31L229.03 438.28L251.76 438.28L274.49 457.15L297.22 456.76L319.95 459.65L342.68 460.04" fill="none" stroke="#139a35" stroke-width="1.6" stroke-linejoin="round"/>
<path d="M206.3 351.92L202.9 358.71L209.7 358.71Z" fill="none" stroke="#139a35" stroke-width="1.0" stroke-linejoin="miter"/>
<path d="M229.03 434.88L225.63 441.68L232.43 441.68Z" fill="none" stroke="#139a35" stroke-width="1.0" stroke-linejoin="miter"/>
<path d="M251.76 434.88L248.36 441.68L255.16 441.68Z" fill="none" stroke="#139a35" stroke-width="1.0" stroke-linejoin="miter"/>
<path d="M274.49 453.75L271.09 460.55L277.89 460.55Z" fill="none" stroke="#139a35" stroke-width="1.0" stroke-linejoin="miter"/>
<path d="M297.22 453.36L293.82 460.16L300.62 460.16Z" fill="none" stroke="#139a35" stroke-width="1.0" stroke-linejoin="miter"/>
<path d="M319.95 456.25L316.55 463.05L323.35 463.05Z" fill="none" stroke="#139a35" stroke-width="1.0" stroke-linejoin="miter"/>
<path d="M342.68 456.64L339.28 463.44L346.08 463.44Z" fill="none" stroke="#139a35" stroke-width="1.0" stroke-linejoin="miter"/>
<path d="M206.3 355.31L229.03 430L251.76 430L274.49 430L297.22 430L319.95 430L342.68 430" fill="none" stroke="#139a35" stroke-width="1.45" stroke-linejoin="round" stroke-dasharray="5.6 1.4 1.1 1.4"/>
<circle cx="206.3" cy="355.31" r="3.4" fill="none" stroke="#139a35" stroke-width="1.0"/>
<circle cx="229.03" cy="430" r="3.4" fill="none" stroke="#139a35" stroke-width="1.0"/>
<circle cx="251.76" cy="430" r="3.4" fill="none" stroke="#139a35" stroke-width="1.0"/>
<circle cx="274.49" cy="430" r="3.4" fill="none" stroke="#139a35" stroke-width="1.0"/>
<circle cx="297.22" cy="430" r="3.4" fill="none" stroke="#139a35" stroke-width="1.0"/>
<circle cx="319.95" cy="430" r="3.4" fill="none" stroke="#139a35" stroke-width="1.0"/>
<circle cx="342.68" cy="430" r="3.4" fill="none" stroke="#139a35" stroke-width="1.0"/>
<path d="M206.3 459.65H342.68" stroke="#a8eef6" stroke-width="1.2"/>
<path d="M206.3 459.65H342.68" stroke="#22d2ea" stroke-width="1.3" stroke-dasharray="1.2 1.05"/>
<path d="M206.3 462.92H342.68" stroke="#333333" stroke-width="1.25"/>
<rect x="199.4" y="346.1" width="150" height="121.2" fill="none" stroke="#7a7a7a" stroke-width="1.3"/>
<path d="M206.3 467.3v2.2M229.03 467.3v2.2M251.76 467.3v2.2M274.49 467.3v2.2M297.22 467.3v2.2M319.95 467.3v2.2M342.68 467.3v2.2M199.4 463.5h-2.2M199.4 444.25h-2.2M199.4 425h-2.2M199.4 405.75h-2.2M199.4 386.5h-2.2M199.4 367.25h-2.2M199.4 348h-2.2" stroke="#7a7a7a" stroke-width="0.9" fill="none"/>
</g><g filter="url(#tb)" font-family="Liberation Sans, sans-serif" fill="#151515" stroke-width="0">
<text x="32.2" y="153.1" font-size="6.6" text-anchor="middle" stroke="#151515" stroke-width="0.2" textLength="14.25" lengthAdjust="spacing">0.25</text>
<text x="54.9" y="153.1" font-size="6.6" text-anchor="middle" stroke="#151515" stroke-width="0.2" textLength="10.18" lengthAdjust="spacing">0.5</text>
<text x="77.6" y="153.1" font-size="6.6" text-anchor="middle" stroke="#151515" stroke-width="0.2" textLength="4.07" lengthAdjust="spacing">1</text>
<text x="100.3" y="153.1" font-size="6.6" text-anchor="middle" stroke="#151515" stroke-width="0.2" textLength="4.07" lengthAdjust="spacing">2</text>
<text x="123" y="153.1" font-size="6.6" text-anchor="middle" stroke="#151515" stroke-width="0.2" textLength="4.07" lengthAdjust="spacing">5</text>
<text x="145.7" y="153.1" font-size="6.6" text-anchor="middle" stroke="#151515" stroke-width="0.2" textLength="8.14" lengthAdjust="spacing">10</text>
<text x="168.4" y="153.1" font-size="6.6" text-anchor="middle" stroke="#151515" stroke-width="0.2" textLength="12.22" lengthAdjust="spacing">100</text>
<text x="21.8" y="143.9" font-size="6.6" text-anchor="end" stroke="#151515" stroke-width="0.2" textLength="4.07" lengthAdjust="spacing">0</text>
<text x="21.8" y="126.05" font-size="6.6" text-anchor="end" stroke="#151515" stroke-width="0.2" textLength="8.14" lengthAdjust="spacing">10</text>
<text x="21.8" y="108.2" font-size="6.6" text-anchor="end" stroke="#151515" stroke-width="0.2" textLength="8.14" lengthAdjust="spacing">20</text>
<text x="21.8" y="90.35" font-size="6.6" text-anchor="end" stroke="#151515" stroke-width="0.2" textLength="8.14" lengthAdjust="spacing">30</text>
<text x="21.8" y="72.5" font-size="6.6" text-anchor="end" stroke="#151515" stroke-width="0.2" textLength="8.14" lengthAdjust="spacing">40</text>
<text x="21.8" y="54.65" font-size="6.6" text-anchor="end" stroke="#151515" stroke-width="0.2" textLength="8.14" lengthAdjust="spacing">50</text>
<text x="21.8" y="36.8" font-size="6.6" text-anchor="end" stroke="#151515" stroke-width="0.2" textLength="8.14" lengthAdjust="spacing">60</text>
<text x="100.15" y="160.6" font-size="6.9" text-anchor="middle" stroke="#151515" stroke-width="0.2" textLength="35.84" lengthAdjust="spacing">Percent, %</text>
<g transform="translate(10.7 84.25) rotate(-90)"><text x="0" y="0" font-size="6.9" text-anchor="middle" stroke="#151515" stroke-width="0.2" textLength="8.09" lengthAdjust="spacing">EF</text></g>
<text x="97.7" y="12.9" font-size="7" text-anchor="middle" stroke="#151515" stroke-width="0.08" textLength="40.85" lengthAdjust="spacing">CHEMBL205</text>
<text x="207.5" y="153.3" font-size="6.6" text-anchor="middle" stroke="#151515" stroke-width="0.2" textLength="14.25" lengthAdjust="spacing">0.25</text>
<text x="230.3" y="153.3" font-size="6.6" text-anchor="middle" stroke="#151515" stroke-width="0.2" textLength="10.18" lengthAdjust="spacing">0.5</text>
<text x="253.1" y="153.3" font-size="6.6" text-anchor="middle" stroke="#151515" stroke-width="0.2" textLength="4.07" lengthAdjust="spacing">1</text>
<text x="275.9" y="153.3" font-size="6.6" text-anchor="middle" stroke="#151515" stroke-width="0.2" textLength="4.07" lengthAdjust="spacing">2</text>
<text x="298.7" y="153.3" font-size="6.6" text-anchor="middle" stroke="#151515" stroke-width="0.2" textLength="4.07" lengthAdjust="spacing">5</text>
<text x="321.5" y="153.3" font-size="6.6" text-anchor="middle" stroke="#151515" stroke-width="0.2" textLength="8.14" lengthAdjust="spacing">10</text>
<text x="344.3" y="153.3" font-size="6.6" text-anchor="middle" stroke="#151515" stroke-width="0.2" textLength="12.22" lengthAdjust="spacing">100</text>
<text x="198.5" y="142.2" font-size="6.6" text-anchor="end" stroke="#151515" stroke-width="0.2" textLength="4.07" lengthAdjust="spacing">0</text>
<text x="198.5" y="116.95" font-size="6.6" text-anchor="end" stroke="#151515" stroke-width="0.2" textLength="8.14" lengthAdjust="spacing">10</text>
<text x="198.5" y="91.7" font-size="6.6" text-anchor="end" stroke="#151515" stroke-width="0.2" textLength="8.14" lengthAdjust="spacing">20</text>
<text x="198.5" y="66.45" font-size="6.6" text-anchor="end" stroke="#151515" stroke-width="0.2" textLength="8.14" lengthAdjust="spacing">30</text>
<text x="198.5" y="41.2" font-size="6.6" text-anchor="end" stroke="#151515" stroke-width="0.2" textLength="8.14" lengthAdjust="spacing">40</text>
<text x="275.85" y="160.8" font-size="6.9" text-anchor="middle" stroke="#151515" stroke-width="0.2" textLength="35.84" lengthAdjust="spacing">Percent, %</text>
<g transform="translate(186.1 84.25) rotate(-90)"><text x="0" y="0" font-size="6.9" text-anchor="middle" stroke="#151515" stroke-width="0.2" textLength="8.09" lengthAdjust="spacing">EF</text></g>
<text x="273.7" y="12.7" font-size="7" text-anchor="middle" stroke="#151515" stroke-width="0.08" textLength="40.85" lengthAdjust="spacing">CHEMBL208</text>
<text x="381.5" y="151.8" font-size="6.6" text-anchor="middle" stroke="#151515" stroke-width="0.2" textLength="14.25" lengthAdjust="spacing">0.25</text>
<text x="404.2" y="151.8" font-size="6.6" text-anchor="middle" stroke="#151515" stroke-width="0.2" textLength="10.18" lengthAdjust="spacing">0.5</text>
<text x="426.9" y="151.8" font-size="6.6" text-anchor="middle" stroke="#151515" stroke-width="0.2" textLength="4.07" lengthAdjust="spacing">1</text>
<text x="449.6" y="151.8" font-size="6.6" text-anchor="middle" stroke="#151515" stroke-width="0.2" textLength="4.07" lengthAdjust="spacing">2</text>
<text x="472.3" y="151.8" font-size="6.6" text-anchor="middle" stroke="#151515" stroke-width="0.2" textLength="4.07" lengthAdjust="spacing">5</text>
<text x="495" y="151.8" font-size="6.6" text-anchor="middle" stroke="#151515" stroke-width="0.2" textLength="8.14" lengthAdjust="spacing">10</text>
<text x="517.7" y="151.8" font-size="6.6" text-anchor="middle" stroke="#151515" stroke-width="0.2" textLength="12.22" lengthAdjust="spacing">100</text>
<text x="371" y="142.7" font-size="6.6" text-anchor="end" stroke="#151515" stroke-width="0.2" textLength="4.07" lengthAdjust="spacing">0</text>
<text x="371" y="124.25" font-size="6.6" text-anchor="end" stroke="#151515" stroke-width="0.2" textLength="8.14" lengthAdjust="spacing">10</text>
<text x="371" y="105.8" font-size="6.6" text-anchor="end" stroke="#151515" stroke-width="0.2" textLength="8.14" lengthAdjust="spacing">20</text>
<text x="371" y="87.35" font-size="6.6" text-anchor="end" stroke="#151515" stroke-width="0.2" textLength="8.14" lengthAdjust="spacing">30</text>
<text x="371" y="68.9" font-size="6.6" text-anchor="end" stroke="#151515" stroke-width="0.2" textLength="8.14" lengthAdjust="spacing">40</text>
<text x="371" y="50.45" font-size="6.6" text-anchor="end" stroke="#151515" stroke-width="0.2" textLength="8.14" lengthAdjust="spacing">50</text>
<text x="371" y="32" font-size="6.6" text-anchor="end" stroke="#151515" stroke-width="0.2" textLength="8.14" lengthAdjust="spacing">60</text>
<text x="449.5" y="159.3" font-size="6.9" text-anchor="middle" stroke="#151515" stroke-width="0.2" textLength="35.84" lengthAdjust="spacing">Percent, %</text>
<g transform="translate(359.9 82.95) rotate(-90)"><text x="0" y="0" font-size="6.9" text-anchor="middle" stroke="#151515" stroke-width="0.2" textLength="8.09" lengthAdjust="spacing">EF</text></g>
<text x="447.4" y="11.2" font-size="7" text-anchor="middle" stroke="#151515" stroke-width="0.08" textLength="40.85" lengthAdjust="spacing">CHEMBL213</text>
<text x="31.4" y="314.3" font-size="6.6" text-anchor="middle" stroke="#151515" stroke-width="0.2" textLength="14.25" lengthAdjust="spacing">0.25</text>
<text x="54.07" y="314.3" font-size="6.6" text-anchor="middle" stroke="#151515" stroke-width="0.2" textLength="10.18" lengthAdjust="spacing">0.5</text>
<text x="76.74" y="314.3" font-size="6.6" text-anchor="middle" stroke="#151515" stroke-width="0.2" textLength="4.07" lengthAdjust="spacing">1</text>
<text x="99.41" y="314.3" font-size="6.6" text-anchor="middle" stroke="#151515" stroke-width="0.2" textLength="4.07" lengthAdjust="spacing">2</text>
<text x="122.08" y="314.3" font-size="6.6" text-anchor="middle" stroke="#151515" stroke-width="0.2" textLength="4.07" lengthAdjust="spacing">5</text>
<text x="144.75" y="314.3" font-size="6.6" text-anchor="middle" stroke="#151515" stroke-width="0.2" textLength="8.14" lengthAdjust="spacing">10</text>
<text x="167.42" y="314.3" font-size="6.6" text-anchor="middle" stroke="#151515" stroke-width="0.2" textLength="12.22" lengthAdjust="spacing">100</text>
<text x="20.8" y="302.9" font-size="6.6" text-anchor="end" stroke="#151515" stroke-width="0.2" textLength="4.07" lengthAdjust="spacing">0</text>
<text x="20.8" y="278.2" font-size="6.6" text-anchor="end" stroke="#151515" stroke-width="0.2" textLength="8.14" lengthAdjust="spacing">10</text>
<text x="20.8" y="253.5" font-size="6.6" text-anchor="end" stroke="#151515" stroke-width="0.2" textLength="8.14" lengthAdjust="spacing">20</text>
<text x="20.8" y="228.8" font-size="6.6" text-anchor="end" stroke="#151515" stroke-width="0.2" textLength="8.14" lengthAdjust="spacing">30</text>
<text x="20.8" y="204.1" font-size="6.6" text-anchor="end" stroke="#151515" stroke-width="0.2" textLength="8.14" lengthAdjust="spacing">40</text>
<text x="99.5" y="321.8" font-size="6.9" text-anchor="middle" stroke="#151515" stroke-width="0.2" textLength="35.84" lengthAdjust="spacing">Percent, %</text>
<g transform="translate(9.7 245.05) rotate(-90)"><text x="0" y="0" font-size="6.9" text-anchor="middle" stroke="#151515" stroke-width="0.2" textLength="8.09" lengthAdjust="spacing">EF</text></g>
<text x="97" y="173.3" font-size="7" text-anchor="middle" stroke="#151515" stroke-width="0.08" textLength="40.85" lengthAdjust="spacing">CHEMBL244</text>
<text x="207.4" y="314.1" font-size="6.6" text-anchor="middle" stroke="#151515" stroke-width="0.2" textLength="14.25" lengthAdjust="spacing">0.25</text>
<text x="230.1" y="314.1" font-size="6.6" text-anchor="middle" stroke="#151515" stroke-width="0.2" textLength="10.18" lengthAdjust="spacing">0.5</text>
<text x="252.8" y="314.1" font-size="6.6" text-anchor="middle" stroke="#151515" stroke-width="0.2" textLength="4.07" lengthAdjust="spacing">1</text>
<text x="275.5" y="314.1" font-size="6.6" text-anchor="middle" stroke="#151515" stroke-width="0.2" textLength="4.07" lengthAdjust="spacing">2</text>
<text x="298.2" y="314.1" font-size="6.6" text-anchor="middle" stroke="#151515" stroke-width="0.2" textLength="4.07" lengthAdjust="spacing">5</text>
<text x="320.9" y="314.1" font-size="6.6" text-anchor="middle" stroke="#151515" stroke-width="0.2" textLength="8.14" lengthAdjust="spacing">10</text>
<text x="343.6" y="314.1" font-size="6.6" text-anchor="middle" stroke="#151515" stroke-width="0.2" textLength="12.22" lengthAdjust="spacing">100</text>
<text x="196.9" y="305" font-size="6.6" text-anchor="end" stroke="#151515" stroke-width="0.2" textLength="4.07" lengthAdjust="spacing">0</text>
<text x="196.9" y="288.35" font-size="6.6" text-anchor="end" stroke="#151515" stroke-width="0.2" textLength="8.14" lengthAdjust="spacing">10</text>
<text x="196.9" y="271.7" font-size="6.6" text-anchor="end" stroke="#151515" stroke-width="0.2" textLength="8.14" lengthAdjust="spacing">20</text>
<text x="196.9" y="255.05" font-size="6.6" text-anchor="end" stroke="#151515" stroke-width="0.2" textLength="8.14" lengthAdjust="spacing">30</text>
<text x="196.9" y="238.4" font-size="6.6" text-anchor="end" stroke="#151515" stroke-width="0.2" textLength="8.14" lengthAdjust="spacing">40</text>
<text x="196.9" y="221.75" font-size="6.6" text-anchor="end" stroke="#151515" stroke-width="0.2" textLength="8.14" lengthAdjust="spacing">50</text>
<text x="196.9" y="205.1" font-size="6.6" text-anchor="end" stroke="#151515" stroke-width="0.2" textLength="8.14" lengthAdjust="spacing">60</text>
<text x="196.9" y="188.45" font-size="6.6" text-anchor="end" stroke="#151515" stroke-width="0.2" textLength="8.14" lengthAdjust="spacing">70</text>
<text x="275.5" y="321.6" font-size="6.9" text-anchor="middle" stroke="#151515" stroke-width="0.2" textLength="35.84" lengthAdjust="spacing">Percent, %</text>
<g transform="translate(185.8 244.8) rotate(-90)"><text x="0" y="0" font-size="6.9" text-anchor="middle" stroke="#151515" stroke-width="0.2" textLength="8.09" lengthAdjust="spacing">EF</text></g>
<text x="272.8" y="173" font-size="7" text-anchor="middle" stroke="#151515" stroke-width="0.08" textLength="40.85" lengthAdjust="spacing">CHEMBL251</text>
<text x="380.6" y="315.2" font-size="6.6" text-anchor="middle" stroke="#151515" stroke-width="0.2" textLength="14.25" lengthAdjust="spacing">0.25</text>
<text x="403.38" y="315.2" font-size="6.6" text-anchor="middle" stroke="#151515" stroke-width="0.2" textLength="10.18" lengthAdjust="spacing">0.5</text>
<text x="426.16" y="315.2" font-size="6.6" text-anchor="middle" stroke="#151515" stroke-width="0.2" textLength="4.07" lengthAdjust="spacing">1</text>
<text x="448.94" y="315.2" font-size="6.6" text-anchor="middle" stroke="#151515" stroke-width="0.2" textLength="4.07" lengthAdjust="spacing">2</text>
<text x="471.72" y="315.2" font-size="6.6" text-anchor="middle" stroke="#151515" stroke-width="0.2" textLength="4.07" lengthAdjust="spacing">5</text>
<text x="494.5" y="315.2" font-size="6.6" text-anchor="middle" stroke="#151515" stroke-width="0.2" textLength="8.14" lengthAdjust="spacing">10</text>
<text x="517.28" y="315.2" font-size="6.6" text-anchor="middle" stroke="#151515" stroke-width="0.2" textLength="12.22" lengthAdjust="spacing">100</text>
<text x="371.7" y="304.3" font-size="6.6" text-anchor="end" stroke="#151515" stroke-width="0.2" textLength="4.07" lengthAdjust="spacing">0</text>
<text x="371.7" y="280" font-size="6.6" text-anchor="end" stroke="#151515" stroke-width="0.2" textLength="8.14" lengthAdjust="spacing">10</text>
<text x="371.7" y="255.7" font-size="6.6" text-anchor="end" stroke="#151515" stroke-width="0.2" textLength="8.14" lengthAdjust="spacing">20</text>
<text x="371.7" y="231.4" font-size="6.6" text-anchor="end" stroke="#151515" stroke-width="0.2" textLength="8.14" lengthAdjust="spacing">30</text>
<text x="371.7" y="207.1" font-size="6.6" text-anchor="end" stroke="#151515" stroke-width="0.2" textLength="8.14" lengthAdjust="spacing">40</text>
<text x="448.95" y="322.7" font-size="6.9" text-anchor="middle" stroke="#151515" stroke-width="0.2" textLength="35.84" lengthAdjust="spacing">Percent, %</text>
<g transform="translate(359.2 246) rotate(-90)"><text x="0" y="0" font-size="6.9" text-anchor="middle" stroke="#151515" stroke-width="0.2" textLength="8.09" lengthAdjust="spacing">EF</text></g>
<text x="446.8" y="174.3" font-size="7" text-anchor="middle" stroke="#151515" stroke-width="0.08" textLength="40.85" lengthAdjust="spacing">CHEMBL279</text>
<text x="30.4" y="477.5" font-size="6.6" text-anchor="middle" stroke="#151515" stroke-width="0.2" textLength="14.25" lengthAdjust="spacing">0.25</text>
<text x="53.1" y="477.5" font-size="6.6" text-anchor="middle" stroke="#151515" stroke-width="0.2" textLength="10.18" lengthAdjust="spacing">0.5</text>
<text x="75.8" y="477.5" font-size="6.6" text-anchor="middle" stroke="#151515" stroke-width="0.2" textLength="4.07" lengthAdjust="spacing">1</text>
<text x="98.5" y="477.5" font-size="6.6" text-anchor="middle" stroke="#151515" stroke-width="0.2" textLength="4.07" lengthAdjust="spacing">2</text>
<text x="121.2" y="477.5" font-size="6.6" text-anchor="middle" stroke="#151515" stroke-width="0.2" textLength="4.07" lengthAdjust="spacing">5</text>
<text x="143.9" y="477.5" font-size="6.6" text-anchor="middle" stroke="#151515" stroke-width="0.2" textLength="8.14" lengthAdjust="spacing">10</text>
<text x="166.6" y="477.5" font-size="6.6" text-anchor="middle" stroke="#151515" stroke-width="0.2" textLength="12.22" lengthAdjust="spacing">100</text>
<text x="19.9" y="467.4" font-size="6.6" text-anchor="end" stroke="#151515" stroke-width="0.2" textLength="4.07" lengthAdjust="spacing">0</text>
<text x="19.9" y="446.85" font-size="6.6" text-anchor="end" stroke="#151515" stroke-width="0.2" textLength="8.14" lengthAdjust="spacing">10</text>
<text x="19.9" y="426.3" font-size="6.6" text-anchor="end" stroke="#151515" stroke-width="0.2" textLength="8.14" lengthAdjust="spacing">20</text>
<text x="19.9" y="405.75" font-size="6.6" text-anchor="end" stroke="#151515" stroke-width="0.2" textLength="8.14" lengthAdjust="spacing">30</text>
<text x="19.9" y="385.2" font-size="6.6" text-anchor="end" stroke="#151515" stroke-width="0.2" textLength="8.14" lengthAdjust="spacing">40</text>
<text x="19.9" y="364.65" font-size="6.6" text-anchor="end" stroke="#151515" stroke-width="0.2" textLength="8.14" lengthAdjust="spacing">50</text>
<text x="98.5" y="485" font-size="6.9" text-anchor="middle" stroke="#151515" stroke-width="0.2" textLength="35.84" lengthAdjust="spacing">Percent, %</text>
<g transform="translate(8.8 408.2) rotate(-90)"><text x="0" y="0" font-size="6.9" text-anchor="middle" stroke="#151515" stroke-width="0.2" textLength="8.09" lengthAdjust="spacing">EF</text></g>
<text x="96.3" y="336.4" font-size="7" text-anchor="middle" stroke="#151515" stroke-width="0.08" textLength="45.11" lengthAdjust="spacing">CHEMBL3979</text>
<text x="206.3" y="476.2" font-size="6.6" text-anchor="middle" stroke="#151515" stroke-width="0.2" textLength="14.25" lengthAdjust="spacing">0.25</text>
<text x="229.03" y="476.2" font-size="6.6" text-anchor="middle" stroke="#151515" stroke-width="0.2" textLength="10.18" lengthAdjust="spacing">0.5</text>
<text x="251.76" y="476.2" font-size="6.6" text-anchor="middle" stroke="#151515" stroke-width="0.2" textLength="4.07" lengthAdjust="spacing">1</text>
<text x="274.49" y="476.2" font-size="6.6" text-anchor="middle" stroke="#151515" stroke-width="0.2" textLength="4.07" lengthAdjust="spacing">2</text>
<text x="297.22" y="476.2" font-size="6.6" text-anchor="middle" stroke="#151515" stroke-width="0.2" textLength="4.07" lengthAdjust="spacing">5</text>
<text x="319.95" y="476.2" font-size="6.6" text-anchor="middle" stroke="#151515" stroke-width="0.2" textLength="8.14" lengthAdjust="spacing">10</text>
<text x="342.68" y="476.2" font-size="6.6" text-anchor="middle" stroke="#151515" stroke-width="0.2" textLength="12.22" lengthAdjust="spacing">100</text>
<text x="195.8" y="466.2" font-size="6.6" text-anchor="end" stroke="#151515" stroke-width="0.2" textLength="4.07" lengthAdjust="spacing">0</text>
<text x="195.8" y="446.95" font-size="6.6" text-anchor="end" stroke="#151515" stroke-width="0.2" textLength="8.14" lengthAdjust="spacing">10</text>
<text x="195.8" y="427.7" font-size="6.6" text-anchor="end" stroke="#151515" stroke-width="0.2" textLength="8.14" lengthAdjust="spacing">20</text>
<text x="195.8" y="408.45" font-size="6.6" text-anchor="end" stroke="#151515" stroke-width="0.2" textLength="8.14" lengthAdjust="spacing">30</text>
<text x="195.8" y="389.2" font-size="6.6" text-anchor="end" stroke="#151515" stroke-width="0.2" textLength="8.14" lengthAdjust="spacing">40</text>
<text x="195.8" y="369.95" font-size="6.6" text-anchor="end" stroke="#151515" stroke-width="0.2" textLength="8.14" lengthAdjust="spacing">50</text>
<text x="195.8" y="350.7" font-size="6.6" text-anchor="end" stroke="#151515" stroke-width="0.2" textLength="8.14" lengthAdjust="spacing">60</text>
<text x="274.4" y="483.7" font-size="6.9" text-anchor="middle" stroke="#151515" stroke-width="0.2" textLength="35.84" lengthAdjust="spacing">Percent, %</text>
<g transform="translate(184.7 407.1) rotate(-90)"><text x="0" y="0" font-size="6.9" text-anchor="middle" stroke="#151515" stroke-width="0.2" textLength="8.09" lengthAdjust="spacing">EF</text></g>
<text x="272.2" y="334.7" font-size="7" text-anchor="middle" stroke="#151515" stroke-width="0.08" textLength="45.11" lengthAdjust="spacing">CHEMBL3880</text>
</g><g>
<path d="M363 363.3H377.5" stroke="#ff1010" stroke-width="1.1"/>
<path d="M370.4 359.5L366.6 367.1L374.2 367.1Z" fill="none" stroke="#ff1010" stroke-width="1.0" stroke-linejoin="miter"/>
<path d="M363 376.46H377.5" stroke="#1010ff" stroke-width="1.1"/>
<path d="M370.4 372.66L366.6 380.26L374.2 380.26Z" fill="none" stroke="#1010ff" stroke-width="1.0" stroke-linejoin="miter"/>
<path d="M363 389.62H377.5" stroke="#139a35" stroke-width="1.1"/>
<path d="M370.4 385.82L366.6 393.42L374.2 393.42Z" fill="none" stroke="#139a35" stroke-width="1.0" stroke-linejoin="miter"/>
<path d="M363 402.78H377.5" stroke="#ff1010" stroke-width="1.1" stroke-dasharray="5.6 1.4 1.1 1.4"/>
<circle cx="370.4" cy="402.78" r="3.6" fill="none" stroke="#ff1010" stroke-width="1.0"/>
<path d="M363 415.94H377.5" stroke="#1010ff" stroke-width="1.1" stroke-dasharray="5.6 1.4 1.1 1.4"/>
<circle cx="370.4" cy="415.94" r="3.6" fill="none" stroke="#1010ff" stroke-width="1.0"/>
<path d="M363 429.1H377.5" stroke="#139a35" stroke-width="1.1" stroke-dasharray="5.6 1.4 1.1 1.4"/>
<circle cx="370.4" cy="429.1" r="3.6" fill="none" stroke="#139a35" stroke-width="1.0"/>
<path d="M363 442.26H377.5" stroke="#a8eef6" stroke-width="1.1"/>
<path d="M363 442.26H377.5" stroke="#22d2ea" stroke-width="1.1" stroke-dasharray="1.2 1.05"/>
<path d="M363 455.42H377.5" stroke="#333333" stroke-width="1.0"/>
</g><g font-family="Liberation Sans, sans-serif" fill="#151515" stroke-width="0">
<text x="381" y="366" font-size="9.1" text-anchor="start" stroke="#151515" stroke-width="0.14" textLength="90.03" lengthAdjust="spacing" fill="#111">Mean scheme (all ph.)</text>
<text x="381" y="379.16" font-size="9.1" text-anchor="start" stroke="#151515" stroke-width="0.14" textLength="84.46" lengthAdjust="spacing" fill="#111">Max scheme (all ph.)</text>
<text x="381" y="392.32" font-size="9.1" text-anchor="start" stroke="#151515" stroke-width="0.14" textLength="124.42" lengthAdjust="spacing" fill="#111">Common Hit Approach (all ph.)</text>
<text x="381" y="405.48" font-size="9.1" text-anchor="start" stroke="#151515" stroke-width="0.14" textLength="126.71" lengthAdjust="spacing" fill="#111">Mean scheme (&gt;4 ph. features)</text>
<text x="381" y="418.64" font-size="9.1" text-anchor="start" stroke="#151515" stroke-width="0.14" textLength="121.14" lengthAdjust="spacing" fill="#111">Max scheme (&gt;4 ph. features)</text>
<text x="381" y="431.8" font-size="9.1" text-anchor="start" stroke="#151515" stroke-width="0.14" textLength="161.1" lengthAdjust="spacing" fill="#111">Common Hit Approach (&gt;4 ph. features)</text>
<text x="381" y="444.96" font-size="9.1" text-anchor="start" stroke="#151515" stroke-width="0.14" textLength="131.24" lengthAdjust="spacing" fill="#111">OR-Consensus (Precision &gt; 0.5)</text>
<text x="381" y="458.12" font-size="9.1" text-anchor="start" stroke="#151515" stroke-width="0.14" textLength="131.24" lengthAdjust="spacing" fill="#111">OR-Consensus (Precision &gt; 0.9)</text>
</g></svg>
</body></html>
